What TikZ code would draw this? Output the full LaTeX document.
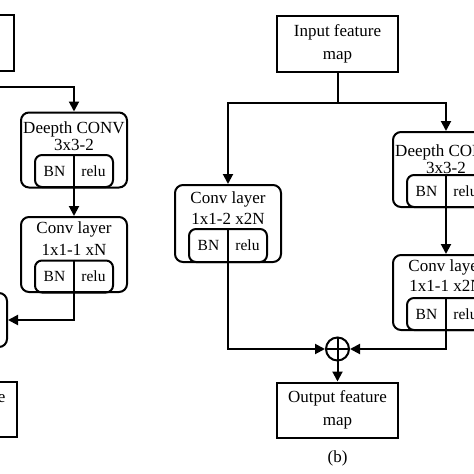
\documentclass[tikz,border=0pt]{standalone}
\usepackage{fontspec}
\setmainfont{Liberation Serif}
\usetikzlibrary{arrows.meta}
\begin{document}
\begin{tikzpicture}[x=1pt,y=-1pt,
  lw/.style={line width=2pt},
  box/.style={draw,lw,minimum width=121pt,minimum height=56pt,inner sep=0pt,align=center,font=\fontsize{17}{23}\selectfont},
  rbox/.style={draw,lw,rounded corners=8pt,minimum width=106pt,minimum height=75pt,inner sep=0pt},
  ibox/.style={draw,lw,rounded corners=7pt,minimum width=78pt,minimum height=32pt,inner sep=0pt},
  lbl/.style={inner sep=0pt,font=\fontsize{17}{20}\selectfont},
  slbl/.style={inner sep=0pt,font=\fontsize{15.5}{18}\selectfont},
  arr/.style={lw,-{Triangle[length=10pt,width=10pt]}},
  con/.style={lw}]
\useasboundingbox (0,0) rectangle (474,474);
\clip (0,0) rectangle (474,474);
% ---------- (a) ----------
\node[box] (inA) at (-47,43) {};
\coordinate (ja) at (-47,87);
\node[rbox] (dcA) at (74,150) {};
\node[lbl] at (74,129) {Deepth CONV};
\node[lbl] at (74,145) {3x3-2};
\node[ibox] (ibA1) at (74,171) {};
\node[slbl] at ([xshift=-19.5pt]ibA1.center) {BN};
\node[slbl] at ([xshift=19.5pt]ibA1.center) {relu};
\node[rbox] (clA) at (74,254.5) {};
\node[lbl] at (74,229) {Conv layer};
\node[lbl] at (74,250) {1x1-1 xN};
\node[ibox] (ibA2) at (74,276.5) {};
\node[slbl] at ([xshift=-19.5pt]ibA2.center) {BN};
\node[slbl] at ([xshift=19.5pt]ibA2.center) {relu};
\node[draw,lw,rounded corners=8pt,minimum width=94pt,minimum height=54pt] (addA) at (-40,320) {};
\node[box,minimum height=55pt] (outA) at (-44,409.5) {Output feature\\map};
\draw[arr] (inA.south) -- (ja) -| (dcA.north);
\draw[arr] (ibA1.north) -- (clA.north);
\draw[arr] (ibA2.north) |- (addA.east);
% ---------- (b) ----------
\node[box] (inB) at (337.5,44) {Input feature\\map};
\coordinate (split) at (337.5,103);
\node[rbox,minimum height=77pt] (clB) at (228,223.5) {};
\node[lbl] at (228,199) {Conv layer};
\node[lbl] at (228,219) {1x1-2 x2N};
\node[ibox,minimum height=33pt] (ibB1) at (228,245.5) {};
\node[slbl] at ([xshift=-19.5pt]ibB1.center) {BN};
\node[slbl] at ([xshift=19.5pt]ibB1.center) {relu};
\node[rbox] (dcB) at (446,169.5) {};
\node[lbl] at (446,152) {Deepth CONV};
\node[lbl] at (446,168) {3x3-2};
\node[ibox] (ibB2) at (446,191) {};
\node[slbl] at ([xshift=-19.5pt]ibB2.center) {BN};
\node[slbl] at ([xshift=19.5pt]ibB2.center) {relu};
\node[rbox] (clB2) at (446,292.5) {};
\node[lbl] at (446,267) {Conv layer};
\node[lbl] at (446,286) {1x1-1 x2N};
\node[ibox] (ibB3) at (446,314) {};
\node[slbl] at ([xshift=-19.5pt]ibB3.center) {BN};
\node[slbl] at ([xshift=19.5pt]ibB3.center) {relu};
\node[circle,draw,lw,minimum size=23pt,inner sep=0pt] (plus) at (337.5,349) {};
\draw[con] (plus.north) -- (plus.south) (plus.west) -- (plus.east);
\node[box,minimum height=55pt] (outB) at (337.5,410) {Output feature\\map};
\node[lbl] (capB) at (337.5,458) {(b)};
\draw[con] (inB.south) -- (split);
\draw[arr] (split) -| (clB.north);
\draw[arr] (split) -| (dcB.north);
\draw[arr] (ibB1.north) |- (plus.west);
\draw[arr] (ibB2.north) -- (clB2.north);
\draw[arr] (ibB3.north) |- (plus.east);
\draw[arr] (plus.south) -- (outB.north);
\end{tikzpicture}
\end{document}
